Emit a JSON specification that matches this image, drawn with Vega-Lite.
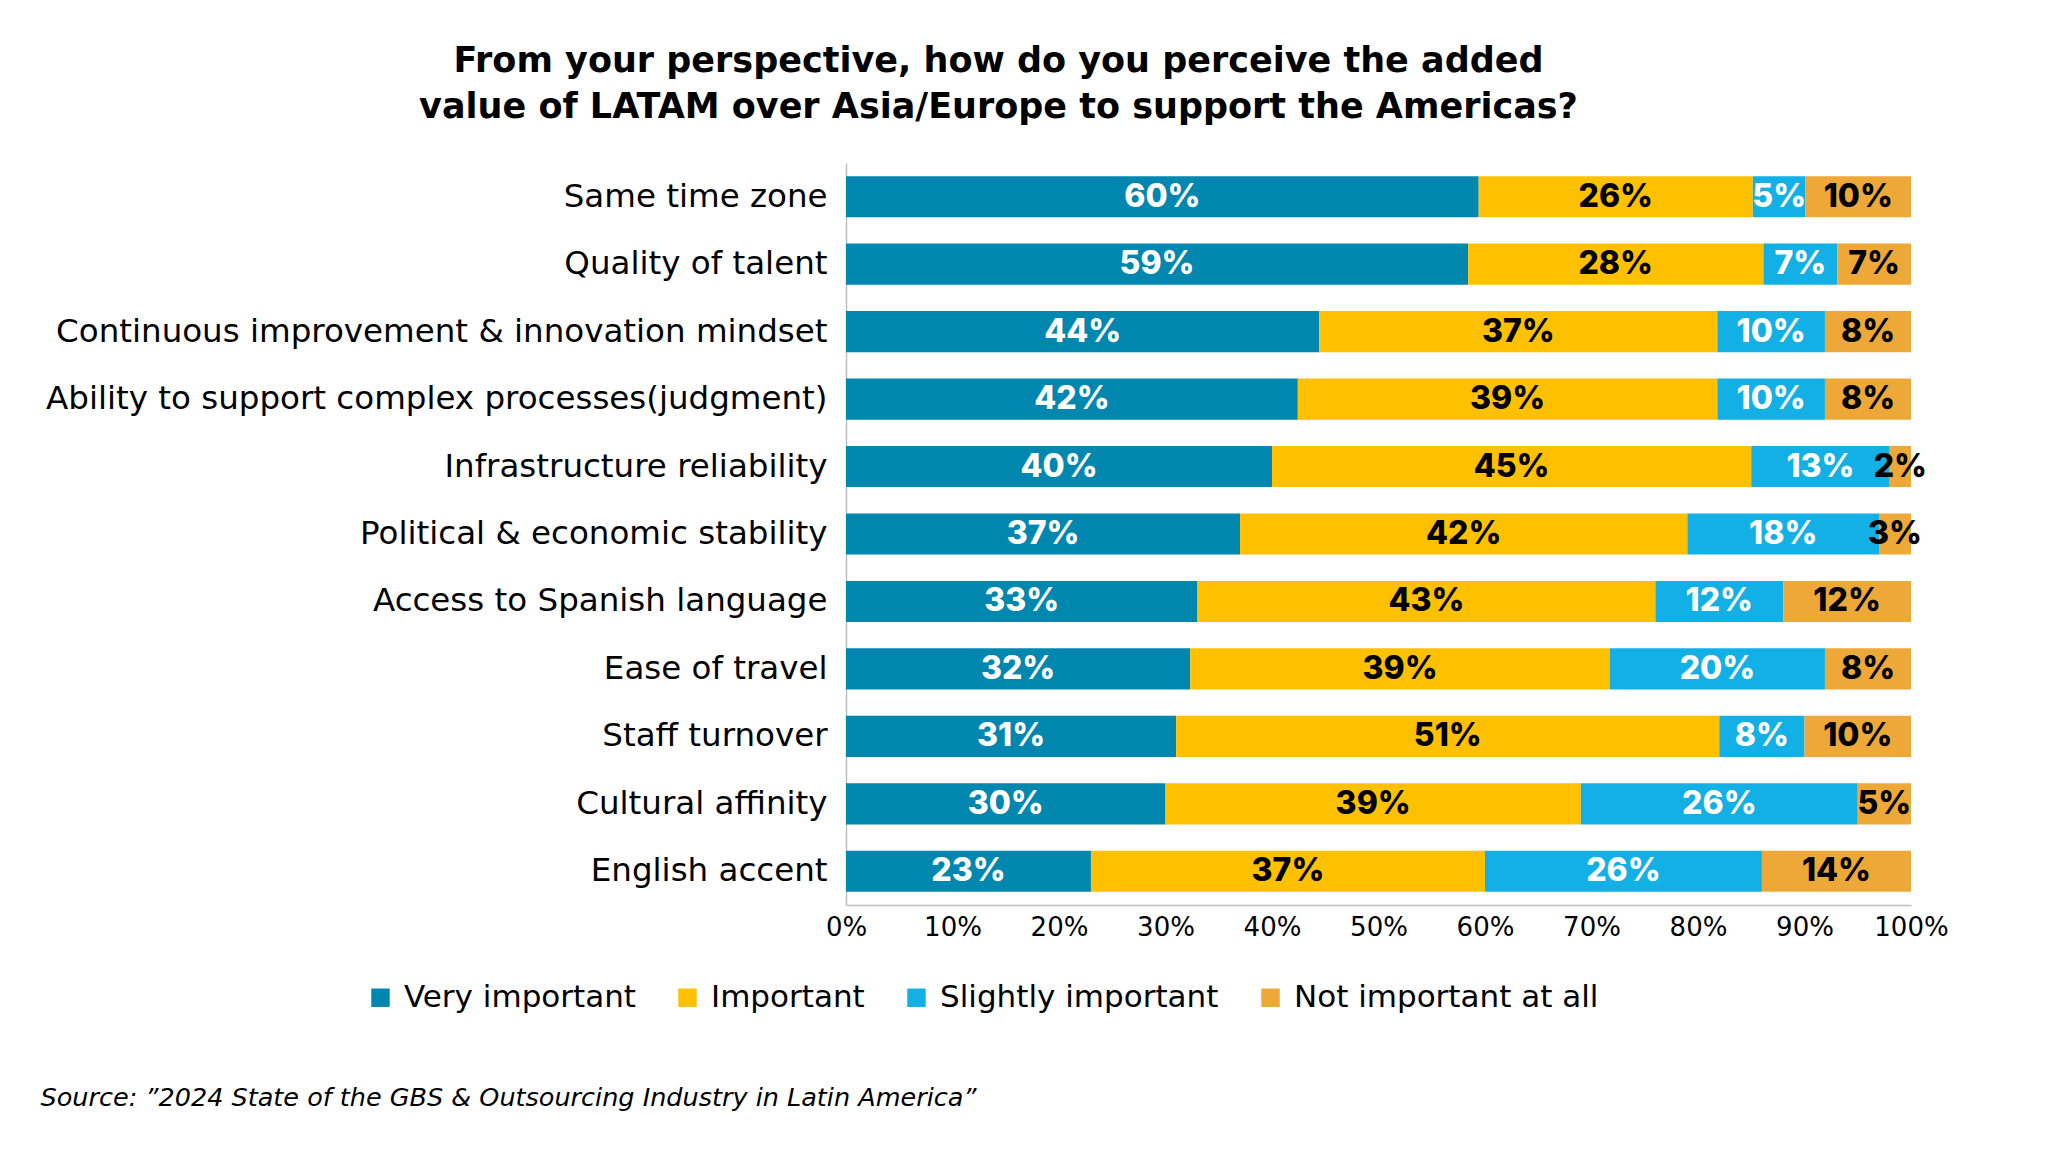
{
  "$schema": "https://vega.github.io/schema/vega-lite/v6.json",
  "autosize": {"type": "none"},
  "width": 1065,
  "height": 742,
  "padding": {"left": 846, "top": 163, "right": 137, "bottom": 258},
  "background": "white",
  "title": {
    "text": ["From your perspective, how do you perceive the added", "value of LATAM over Asia/Europe to support the Americas?"],
    "anchor": "middle",
    "frame": "group",
    "dx": -380,
    "offset": 38,
    "font": "DejaVu Sans",
    "fontSize": 35,
    "fontWeight": "bold",
    "lineHeight": 46,
    "color": "#000000"
  },
  "config": {
    "view": {"stroke": null},
    "font": "DejaVu Sans"
  },
  "data": {
    "values": [
      {"item": "Same time zone", "cat": "Very important", "k": 1, "v": 0.60},
      {"item": "Same time zone", "cat": "Important", "k": 2, "v": 0.26},
      {"item": "Same time zone", "cat": "Slightly important", "k": 3, "v": 0.05},
      {"item": "Same time zone", "cat": "Not important at all", "k": 4, "v": 0.10},
      {"item": "Quality of talent", "cat": "Very important", "k": 1, "v": 0.59},
      {"item": "Quality of talent", "cat": "Important", "k": 2, "v": 0.28},
      {"item": "Quality of talent", "cat": "Slightly important", "k": 3, "v": 0.07},
      {"item": "Quality of talent", "cat": "Not important at all", "k": 4, "v": 0.07},
      {"item": "Continuous improvement & innovation mindset", "cat": "Very important", "k": 1, "v": 0.44},
      {"item": "Continuous improvement & innovation mindset", "cat": "Important", "k": 2, "v": 0.37},
      {"item": "Continuous improvement & innovation mindset", "cat": "Slightly important", "k": 3, "v": 0.10},
      {"item": "Continuous improvement & innovation mindset", "cat": "Not important at all", "k": 4, "v": 0.08},
      {"item": "Ability to support complex processes(judgment)", "cat": "Very important", "k": 1, "v": 0.42},
      {"item": "Ability to support complex processes(judgment)", "cat": "Important", "k": 2, "v": 0.39},
      {"item": "Ability to support complex processes(judgment)", "cat": "Slightly important", "k": 3, "v": 0.10},
      {"item": "Ability to support complex processes(judgment)", "cat": "Not important at all", "k": 4, "v": 0.08},
      {"item": "Infrastructure reliability", "cat": "Very important", "k": 1, "v": 0.40},
      {"item": "Infrastructure reliability", "cat": "Important", "k": 2, "v": 0.45},
      {"item": "Infrastructure reliability", "cat": "Slightly important", "k": 3, "v": 0.13},
      {"item": "Infrastructure reliability", "cat": "Not important at all", "k": 4, "v": 0.02},
      {"item": "Political & economic stability", "cat": "Very important", "k": 1, "v": 0.37},
      {"item": "Political & economic stability", "cat": "Important", "k": 2, "v": 0.42},
      {"item": "Political & economic stability", "cat": "Slightly important", "k": 3, "v": 0.18},
      {"item": "Political & economic stability", "cat": "Not important at all", "k": 4, "v": 0.03},
      {"item": "Access to Spanish language", "cat": "Very important", "k": 1, "v": 0.33},
      {"item": "Access to Spanish language", "cat": "Important", "k": 2, "v": 0.43},
      {"item": "Access to Spanish language", "cat": "Slightly important", "k": 3, "v": 0.12},
      {"item": "Access to Spanish language", "cat": "Not important at all", "k": 4, "v": 0.12},
      {"item": "Ease of travel", "cat": "Very important", "k": 1, "v": 0.32},
      {"item": "Ease of travel", "cat": "Important", "k": 2, "v": 0.39},
      {"item": "Ease of travel", "cat": "Slightly important", "k": 3, "v": 0.20},
      {"item": "Ease of travel", "cat": "Not important at all", "k": 4, "v": 0.08},
      {"item": "Staff turnover", "cat": "Very important", "k": 1, "v": 0.31},
      {"item": "Staff turnover", "cat": "Important", "k": 2, "v": 0.51},
      {"item": "Staff turnover", "cat": "Slightly important", "k": 3, "v": 0.08},
      {"item": "Staff turnover", "cat": "Not important at all", "k": 4, "v": 0.10},
      {"item": "Cultural affinity", "cat": "Very important", "k": 1, "v": 0.30},
      {"item": "Cultural affinity", "cat": "Important", "k": 2, "v": 0.39},
      {"item": "Cultural affinity", "cat": "Slightly important", "k": 3, "v": 0.26},
      {"item": "Cultural affinity", "cat": "Not important at all", "k": 4, "v": 0.05},
      {"item": "English accent", "cat": "Very important", "k": 1, "v": 0.23},
      {"item": "English accent", "cat": "Important", "k": 2, "v": 0.37},
      {"item": "English accent", "cat": "Slightly important", "k": 3, "v": 0.26},
      {"item": "English accent", "cat": "Not important at all", "k": 4, "v": 0.14}
    ]
  },
  "encoding": {
    "y": {
      "field": "item",
      "type": "nominal",
      "sort": null,
      "scale": {"paddingInner": 0.39, "paddingOuter": 0.195},
      "axis": {
        "title": null,
        "ticks": false,
        "domain": true,
        "domainColor": "#BFBFBF",
        "domainWidth": 1.5,
        "labelFont": "DejaVu Sans",
        "labelFontSize": 32.5,
        "labelColor": "#000000",
        "labelPadding": 19,
        "labelLimit": 1000
      }
    }
  },
  "layer": [
    {
      "mark": {"type": "bar"},
      "encoding": {
        "x": {
          "field": "v",
          "type": "quantitative",
          "stack": "normalize",
          "scale": {"domain": [0, 1]},
          "axis": {
            "format": ".0%",
            "values": [0, 0.1, 0.2, 0.3, 0.4, 0.5, 0.6, 0.7, 0.8, 0.9, 1],
            "grid": false,
            "ticks": false,
            "labelFlush": false,
            "domainColor": "#BFBFBF",
            "domainWidth": 1.5,
            "labelFont": "DejaVu Sans",
            "labelFontSize": 26,
            "labelColor": "#000000",
            "labelPadding": 9,
            "title": "Source: \u201d2024 State of the GBS & Outsourcing Industry in Latin America\u201d",
            "titleFont": "DejaVu Sans",
            "titleFontSize": 25.5,
            "titleFontStyle": "italic",
            "titleFontWeight": "normal",
            "titleColor": "#000000",
            "titleX": -806,
            "titleY": 192,
            "titleAlign": "left",
            "titleBaseline": "middle",
            "titleAngle": 0
          }
        },
        "color": {
          "field": "cat",
          "type": "nominal",
          "scale": {
            "domain": ["Very important", "Important", "Slightly important", "Not important at all"],
            "range": ["#0087AF", "#FFC000", "#12B0E4", "#EDA838"]
          },
          "legend": {
            "title": null,
            "orient": "none",
            "direction": "horizontal",
            "legendX": -481,
            "legendY": 819,
            "symbolType": "square",
            "symbolSize": 340,
            "symbolStrokeWidth": 0,
            "labelFont": "DejaVu Sans",
            "labelFontSize": 31,
            "labelColor": "#000000",
            "labelOffset": 8,
            "columnPadding": 36,
            "labelLimit": 1000
          }
        },
        "order": {"field": "k", "type": "quantitative"}
      }
    },
    {
      "mark": {"type": "text", "font": "Inter", "fontSize": 32, "fontWeight": 800, "align": "center", "baseline": "middle"},
      "encoding": {
        "x": {"field": "v", "type": "quantitative", "stack": "normalize", "bandPosition": 0.5},
        "detail": {"field": "cat"},
        "order": {"field": "k", "type": "quantitative"},
        "text": {"field": "v", "type": "quantitative", "format": ".0%"},
        "color": {
          "condition": {"test": "datum.cat === 'Very important' || datum.cat === 'Slightly important'", "value": "#FFFFFF"},
          "value": "#000000"
        }
      }
    }
  ]
}
